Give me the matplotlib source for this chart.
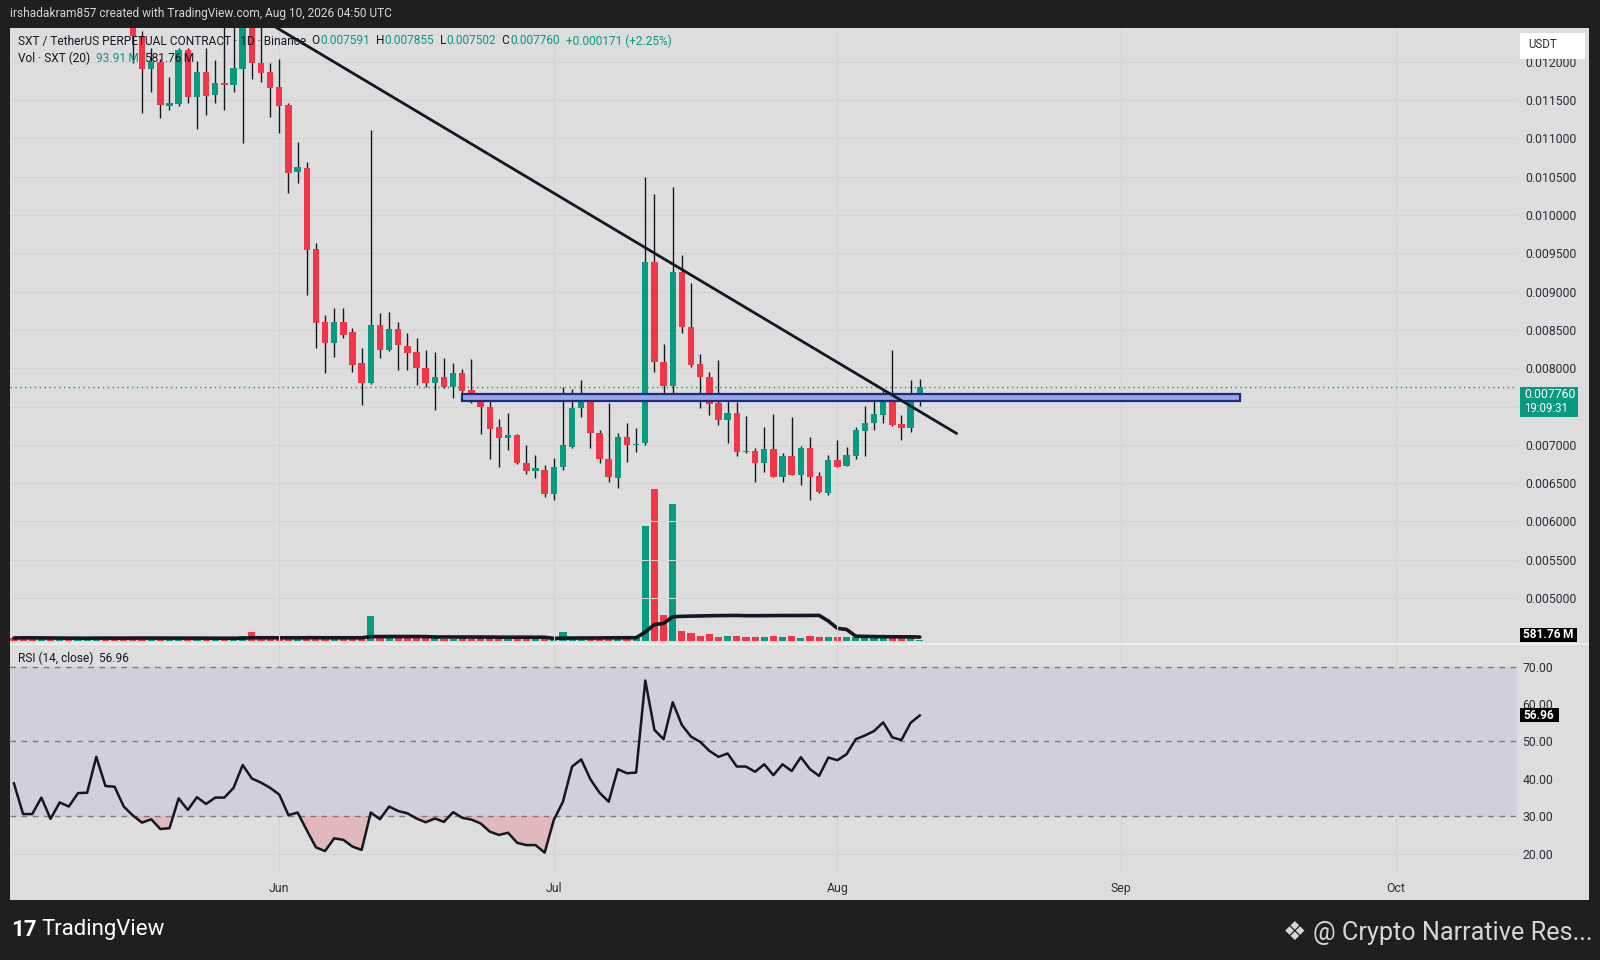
import numpy as np
import pandas as pd
import matplotlib
matplotlib.use("Agg")
import matplotlib.pyplot as plt
import matplotlib.dates as mdates
import matplotlib.ticker as mticker
from matplotlib.patches import Rectangle

W, H = 1600, 960

# ---- data (1D candles, SXT/USDT perp) ----
dates = pd.date_range("2026-05-03", "2026-08-10", freq="D")

opens = [0.01480, 0.01450, 0.01410, 0.01405, 0.01432, 0.01390, 0.01412, 0.01400, 0.01425, 0.01427,
         0.01495, 0.01442, 0.01438, 0.01362, 0.01234, 0.01191, 0.01200, 0.01142, 0.01145, 0.01215,
         0.01154, 0.01187, 0.01157, 0.01172, 0.01170, 0.01191, 0.01265, 0.01198, 0.01187,
         0.01167, 0.01144, 0.01056, 0.01061, 0.00956, 0.00860, 0.00833, 0.00860, 0.00847, 0.00807,
         0.00781, 0.00856, 0.00824, 0.00851, 0.00829, 0.00821, 0.00800, 0.00781, 0.00789, 0.00776,
         0.00794, 0.00772, 0.00762, 0.00749, 0.00723, 0.00709, 0.00713, 0.00676, 0.00666, 0.00667,
         0.00636, 0.00671, 0.00697, 0.00748, 0.00759, 0.00715, 0.00682, 0.00657, 0.00710, 0.00700,
         0.00702, 0.00939, 0.00808, 0.00777, 0.00926, 0.00854, 0.00805, 0.00789, 0.00755, 0.00732,
         0.00742, 0.00692, 0.00692, 0.00676, 0.00695, 0.00658, 0.00685, 0.00661, 0.00696, 0.00659,
         0.00637, 0.00680, 0.00672, 0.00685, 0.00718, 0.00728, 0.00739, 0.00759, 0.00727, 0.00722,
         0.007591]
highs = [0.01500, 0.01462, 0.01428, 0.01442, 0.01436, 0.01420, 0.01418, 0.01430, 0.01434, 0.01520,
         0.01498, 0.01452, 0.01442, 0.01370, 0.01240, 0.01218, 0.01203, 0.01180, 0.01218, 0.01218,
         0.01201, 0.01218, 0.01202, 0.01260, 0.01262, 0.01290, 0.01285, 0.01255, 0.01198,
         0.01204, 0.01146, 0.01095, 0.01069, 0.00963, 0.00870, 0.00879, 0.00879, 0.00853, 0.00826,
         0.01111, 0.00872, 0.00873, 0.00860, 0.00846, 0.00839, 0.00824, 0.00821, 0.00813, 0.00807,
         0.00799, 0.00812, 0.00768, 0.00760, 0.00734, 0.00742, 0.00714, 0.00700, 0.00687, 0.00674,
         0.00683, 0.00776, 0.00773, 0.00785, 0.00761, 0.00719, 0.00755, 0.00715, 0.00729, 0.00722,
         0.01050, 0.01027, 0.00832, 0.01036, 0.00948, 0.00911, 0.00819, 0.00795, 0.00811, 0.00759,
         0.00756, 0.00738, 0.00696, 0.00723, 0.00740, 0.00689, 0.00736, 0.00698, 0.00710, 0.00665,
         0.00687, 0.00706, 0.00697, 0.00723, 0.00751, 0.00768, 0.00771, 0.00824, 0.00739, 0.00785,
         0.007855]
lows = [0.01440, 0.01402, 0.01396, 0.01400, 0.01380, 0.01384, 0.01394, 0.01395, 0.01410, 0.01420,
        0.01432, 0.01426, 0.01355, 0.01198, 0.01133, 0.01161, 0.01127, 0.01137, 0.01142, 0.01146,
        0.01112, 0.01131, 0.01146, 0.01137, 0.01161, 0.01094, 0.01178, 0.01174, 0.01128,
        0.01107, 0.01029, 0.01042, 0.00896, 0.00826, 0.00794, 0.00815, 0.00839, 0.00795, 0.00752,
        0.00780, 0.00813, 0.00822, 0.00798, 0.00798, 0.00778, 0.00775, 0.00745, 0.00774, 0.00761,
        0.00765, 0.00755, 0.00714, 0.00682, 0.00671, 0.00693, 0.00675, 0.00662, 0.00657, 0.00632,
        0.00628, 0.00667, 0.00696, 0.00736, 0.00696, 0.00676, 0.00651, 0.00644, 0.00678, 0.00691,
        0.00700, 0.00795, 0.00759, 0.00764, 0.00846, 0.00802, 0.00748, 0.00739, 0.00726, 0.00702,
        0.00685, 0.00689, 0.00652, 0.00664, 0.00658, 0.00652, 0.00660, 0.00648, 0.00628, 0.00637,
        0.00635, 0.00671, 0.00672, 0.00682, 0.00685, 0.00719, 0.00728, 0.00724, 0.00706, 0.00717,
        0.007502]
closes = [0.01450, 0.01410, 0.01405, 0.01432, 0.01390, 0.01412, 0.01400, 0.01425, 0.01427, 0.01495,
          0.01442, 0.01438, 0.01362, 0.01234, 0.01191, 0.01200, 0.01144, 0.01146, 0.01215, 0.01154,
          0.01187, 0.01155, 0.01172, 0.01170, 0.01192, 0.01265, 0.01198, 0.01185, 0.01166,
          0.01142, 0.01055, 0.01063, 0.00954, 0.00859, 0.00833, 0.00860, 0.00843, 0.00804, 0.00781,
          0.00856, 0.00824, 0.00851, 0.00830, 0.00820, 0.00800, 0.00781, 0.00789, 0.00776, 0.00794,
          0.00770, 0.00762, 0.00749, 0.00721, 0.00709, 0.00713, 0.00676, 0.00666, 0.00670, 0.00636,
          0.00671, 0.00700, 0.00748, 0.00759, 0.00715, 0.00682, 0.00658, 0.00710, 0.00700, 0.00701,
          0.00939, 0.00808, 0.00777, 0.00926, 0.00854, 0.00804, 0.00788, 0.00753, 0.00732, 0.00742,
          0.00691, 0.00690, 0.00676, 0.00694, 0.00658, 0.00685, 0.00661, 0.00696, 0.00658, 0.00639,
          0.00680, 0.00671, 0.00687, 0.00719, 0.00729, 0.00740, 0.00759, 0.00726, 0.00722, 0.00759,
          0.007760]
# volume in millions of SXT
volumes = [450, 500, 480, 420, 430, 380, 350, 400, 360, 600, 420, 380, 450,
           500, 550, 380, 420, 350, 450, 420, 380, 400, 350, 420, 380, 700, 1350, 450, 400,
           420, 480, 350, 600, 650, 420, 380, 350, 400, 450, 3800, 600, 450, 400, 380,
           420, 400, 380, 350, 360, 380, 350, 420, 450, 400, 320, 380, 350, 300, 420,
           500, 1300, 650, 500, 480, 450, 800, 550, 450, 400, 17300, 22800, 3900, 20550,
           1500, 1150, 800, 1000, 650, 700, 750, 550, 650, 600, 750, 600, 800, 500, 700,
           550, 650, 600, 550, 600, 650, 600, 550, 700, 500, 600, 93.91]
rsi = [38.8, 30.6, 30.6, 35.0, 29.3, 33.7, 32.6, 36.2, 36.3, 45.9, 38.1, 37.9, 32.6,
       30.2, 28.3, 29.2, 26.6, 26.8, 34.8, 31.7, 35.1, 33.3, 35.0, 35.0, 37.6, 43.7, 40.1, 39.0, 37.6,
       35.8, 30.3, 31.0, 26.3, 21.7, 20.7, 24.1, 23.7, 21.9, 21.0, 31.0, 29.2, 32.6, 31.4, 30.8,
       29.4, 28.4, 29.4, 28.5, 31.1, 29.6, 29.1, 28.1, 25.9, 25.0, 25.6, 22.9, 22.3, 22.3, 20.3,
       29.0, 33.9, 43.3, 45.2, 39.9, 36.3, 33.9, 42.6, 41.5, 41.7, 66.3, 53.1, 50.6, 60.5,
       54.4, 51.3, 49.9, 47.5, 45.9, 46.8, 43.3, 43.3, 41.9, 43.9, 41.0, 43.9, 42.1, 45.8, 42.6,
       40.8, 45.7, 45.0, 46.6, 50.6, 51.6, 52.8, 55.1, 51.1, 50.4, 55.0, 56.96]

price_ticks = [0.0050, 0.0055, 0.0060, 0.0065, 0.0070, 0.0075, 0.0080, 0.0085,
               0.0090, 0.0095, 0.0100, 0.0105, 0.0110, 0.0115, 0.0120]
rsi_ticks = [20, 30, 40, 50, 60, 70]
month_ticks = ["2026-06-01", "2026-07-01", "2026-08-01", "2026-09-01", "2026-10-01"]
month_labels = ["Jun", "Jul", "Aug", "Sep", "Oct"]

trend_dates = ["2026-05-31 12:00", "2026-08-14"]
trend_prices = [0.01246, 0.00715]
zone_dates = ["2026-06-21", "2026-09-14"]
zone_prices = [0.007578, 0.007663]
last_price = 0.007760

GREEN = "#089981"
RED = "#f23645"
INK = "#131722"
BG = "#dddddd"
DARK = "#1f1f1f"
FONT = "Roboto"

plt.rcParams["font.family"] = [FONT, "DejaVu Sans"]


def frac(x0, y0, x1, y1):
    return [x0 / W, 1 - y1 / H, (x1 - x0) / W, (y1 - y0) / H]


fig = plt.figure(figsize=(W / 100, H / 100), dpi=100, facecolor=DARK)
bg = fig.add_axes(frac(10, 28, 1589, 900), zorder=-5)
bg.set_facecolor(BG)
bg.set_xticks([]); bg.set_yticks([])
for s in bg.spines.values():
    s.set_visible(False)

ax = fig.add_axes(frac(10, 28, 1517, 643))
rax = fig.add_axes(frac(10, 645, 1517, 872), sharex=ax)

x = mdates.date2num(dates.to_pydatetime())
o, hi, lo, c = map(np.array, (opens, highs, lows, closes))
cols = np.where(c >= o, GREEN, RED)

jun1 = mdates.date2num(pd.Timestamp("2026-06-01"))
ax.set_xlim(jun1 - 29.43, jun1 + 135.27)
ax.set_ylim(0.004413, 0.012441)

# volume pane overlay
vax = ax.twinx()
vax.set_zorder(ax.get_zorder() - 1)
ax.patch.set_visible(False)
vax.bar(x, volumes, width=0.78, color=cols, linewidth=0)
vma = pd.Series(volumes).rolling(20, min_periods=1).mean()
vax.plot(x, vma, color=INK, lw=2.6, solid_capstyle="round")
vax.set_ylim(-300, 91950)
vax.axis("off")

# candles
ax.vlines(x, lo, hi, color=INK, lw=1.0, zorder=2)
body = np.maximum(np.abs(c - o), 0.000013)
ax.bar(x, body, bottom=np.minimum(o, c), width=0.7, color=cols, linewidth=0, zorder=3)

# drawings
zx = mdates.date2num([pd.Timestamp(d) for d in zone_dates])
ax.add_patch(Rectangle((zx[0], zone_prices[0]), zx[1] - zx[0], zone_prices[1] - zone_prices[0],
                       facecolor="#96a6e8", edgecolor="#1c2a80", lw=1.6, zorder=4))
tx = mdates.date2num([pd.Timestamp(d) for d in trend_dates])
ax.plot(tx, trend_prices, color=INK, lw=2.0, zorder=5)
ax.axhline(last_price, color=GREEN, lw=1.0, ls=(0, (1, 2.5)), zorder=1)

mt = mdates.date2num([pd.Timestamp(d) for d in month_ticks])
for a in (ax, rax):
    a.set_xticks(mt)
    a.grid(True, color="#d3d3d3", lw=0.8, zorder=0)
    a.set_axisbelow(True)
    for s in a.spines.values():
        s.set_visible(False)
    a.yaxis.tick_right()
    a.tick_params(length=0, colors="#2a2e39", labelsize=8.8)

ax.set_yticks(price_ticks)
ax.yaxis.set_major_formatter(mticker.FormatStrFormatter("%.6f"))
ax.tick_params(axis="y", pad=6)
ax.tick_params(axis="x", labelbottom=False)

# RSI pane
rax.set_facecolor("none")
rax.set_ylim(15.1, 75.8)
rax.set_yticks(rsi_ticks)
rax.yaxis.set_major_formatter(mticker.FormatStrFormatter("%.2f"))
rax.tick_params(axis="y", pad=4)
rax.set_xticklabels(month_labels)
rax.tick_params(axis="x", pad=7)
rax.axhspan(30, 70, color="#7e57c2", alpha=0.10, lw=0, zorder=0)
for lvl in (70, 50, 30):
    rax.axhline(lvl, color="#787b86", lw=1.0, ls=(0, (4, 4)), zorder=1)
r = np.array(rsi)
rax.fill_between(x, r, 30, where=r < 30, interpolate=True, color=RED, alpha=0.22, lw=0, zorder=1)
rax.plot(x, r, color=INK, lw=1.8, zorder=3)

# pane separator
fig.add_artist(Rectangle((10 / W, 1 - 645 / H), 1579 / W, 2 / H, transform=fig.transFigure,
                         facecolor="#ececec", edgecolor="none"))

fig.canvas.draw()
rend = fig.canvas.get_renderer()


def rich(x0, y0, parts, size, weight="normal"):
    for s, col in parts:
        t = fig.text(x0 / W, 1 - y0 / H, s, color=col, fontsize=size, va="center", ha="left",
                     fontweight=weight)
        x0 += t.get_window_extent(renderer=rend).width


def box(x0, y0, x1, y1, fc, ec="none"):
    fig.add_artist(Rectangle((x0 / W, 1 - y1 / H), (x1 - x0) / W, (y1 - y0) / H,
                             transform=fig.transFigure, facecolor=fc, edgecolor=ec, zorder=10))


def label(x0, y0, s, col, size, weight="normal", ha="left"):
    fig.text(x0 / W, 1 - y0 / H, s, color=col, fontsize=size, va="center", ha=ha,
             fontweight=weight, zorder=11)


# header and footer
label(10, 14, "irshadakram857 created with TradingView.com, Aug 10, 2026 04:50 UTC", "#d6d6d6", 8.6)
label(11, 930, "17", "#ffffff", 16, weight="bold")
label(41, 930, "TradingView", "#ffffff", 16)
fig.text(1283 / W, 1 - 933 / H, "\u2756", color="#d6d6d6", fontsize=19, va="center", ha="left",
         family="DejaVu Sans")
label(1313, 933, "@ Crypto Narrative Res...", "#d6d6d6", 18.2)

# legends
rich(18, 41, [("SXT / TetherUS PERPETUAL CONTRACT \u00b7 1D \u00b7 Binance", INK), ("  O", INK),
              ("%.6f" % opens[-1], GREEN), ("  H", INK), ("%.6f" % highs[-1], GREEN), ("  L", INK),
              ("%.6f" % lows[-1], GREEN), ("  C", INK), ("%.6f" % closes[-1], GREEN),
              ("  +0.000171 (+2.25%)", GREEN)], 8.6)
rich(18, 58, [("Vol \u00b7 SXT (20)", INK), ("  93.91\u2009M", GREEN), ("  581.76\u2009M", INK)], 8.6)
rich(18, 658, [("RSI (14, close)", INK), ("  %.2f" % rsi[-1], INK)], 8.6)

# right-axis badges
box(1520, 33, 1585, 59, "#ffffff")
label(1528, 45, "USDT", "#2a2e39", 8.3)

yp = H - ax.transData.transform((x[-1], last_price))[1]
box(1520, yp, 1578, yp + 30, GREEN)
label(1524, yp + 8, "%.6f" % last_price, "#ffffff", 8.8)
label(1524, yp + 22, "19:09:31", "#ffffff", 8.3)

yv = H - vax.transData.transform((x[-1], vma.iloc[-1]))[1]
yv = min(yv, 635)
box(1520, yv - 7, 1577, yv + 7, "#000000")
label(1523, yv, "581.76\u2009M", "#ffffff", 8.6, weight="bold")

yr = H - rax.transData.transform((x[-1], rsi[-1]))[1]
box(1520, yr - 7, 1559, yr + 7, "#000000")
label(1523, yr, "%.2f" % rsi[-1], "#ffffff", 8.6, weight="bold")

fig.savefig("out.png", dpi=100, facecolor=DARK)
